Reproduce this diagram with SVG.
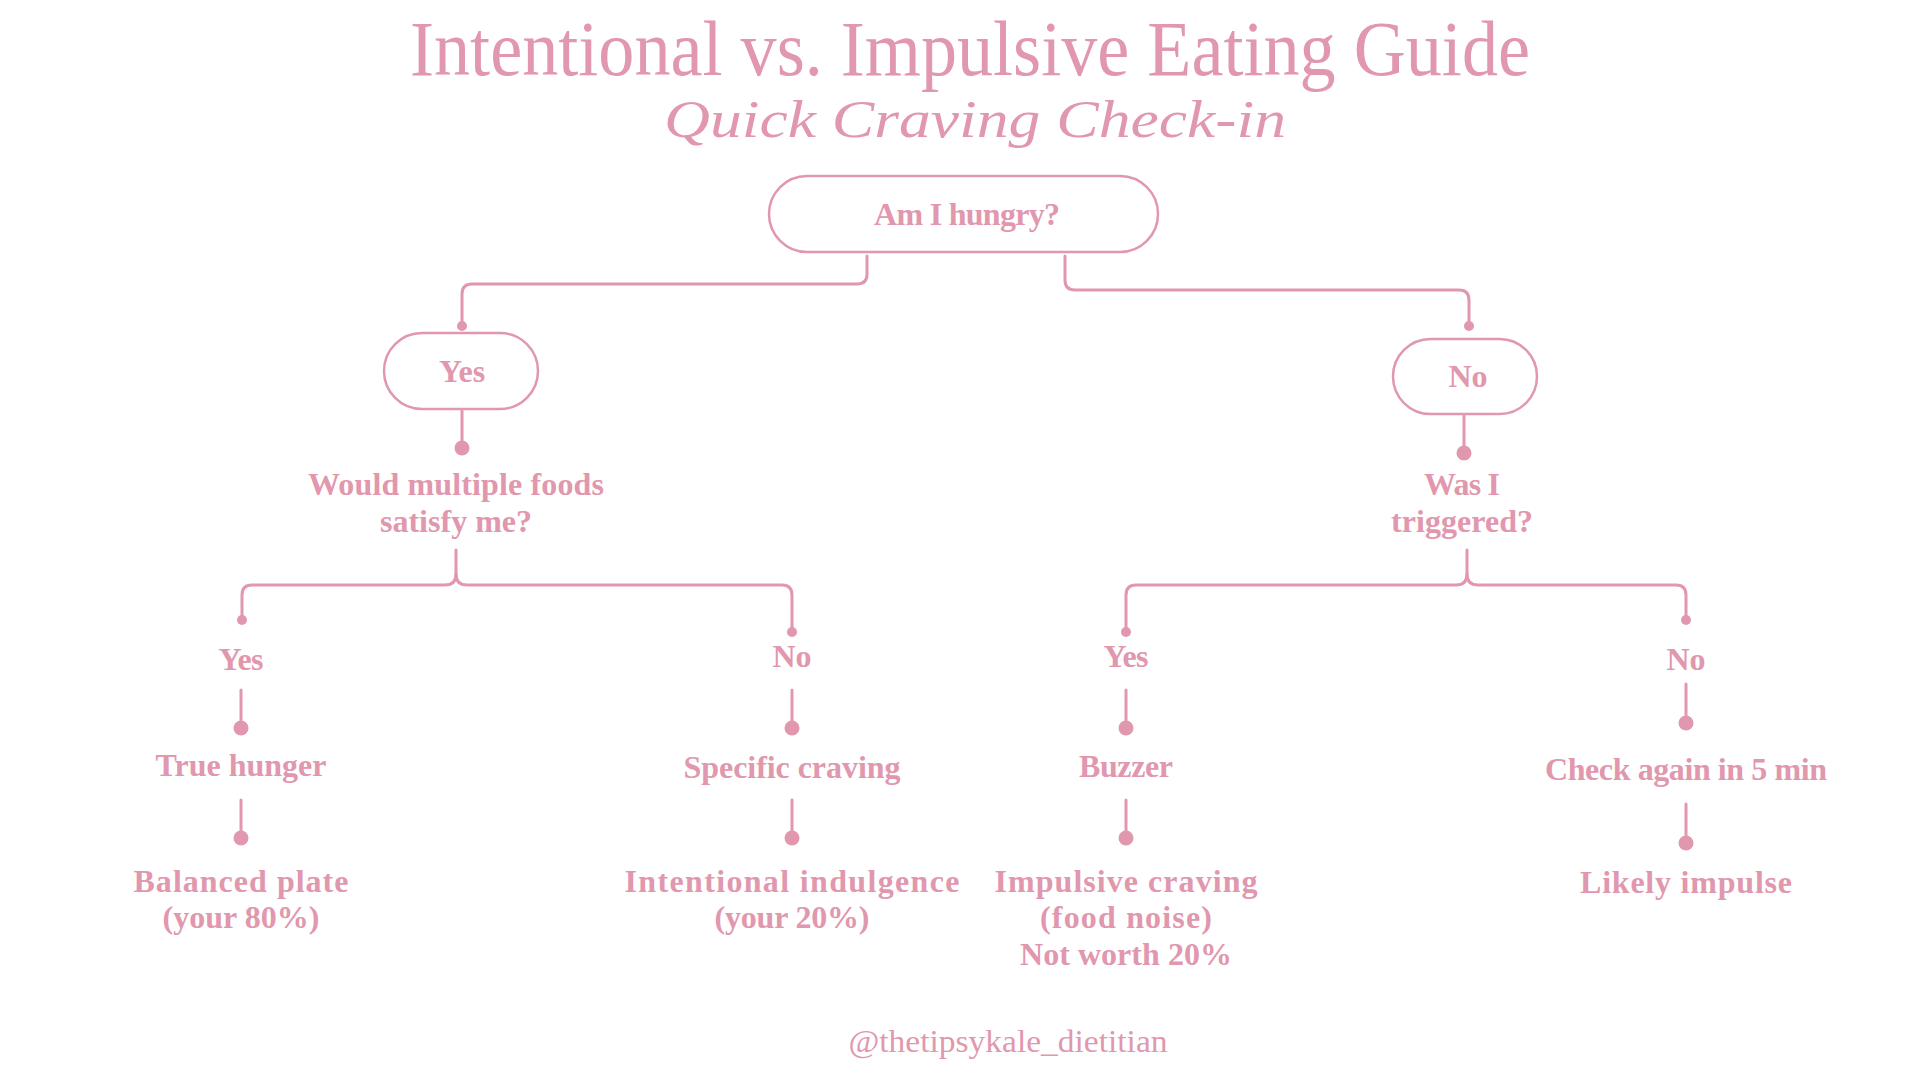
<svg xmlns="http://www.w3.org/2000/svg" width="1920" height="1080" viewBox="0 0 1920 1080">
<style>
.t{font-family:"Liberation Serif","DejaVu Serif",serif;fill:#E197AD;text-anchor:middle}
.b{font-weight:bold;font-size:32px}
.node{fill:#fff;stroke:#E197AD;stroke-width:2.5}
.ln{fill:none;stroke:#E197AD;stroke-width:3;stroke-linecap:round}
.dot{fill:#E197AD}
</style>
<rect width="1920" height="1080" fill="#fff"/>
<text class="t" x="970" y="75" font-size="78" textLength="1120" lengthAdjust="spacingAndGlyphs">Intentional vs. Impulsive Eating Guide</text>
<text class="t" x="975" y="137" font-size="52" font-style="italic" textLength="622" lengthAdjust="spacingAndGlyphs">Quick Craving Check-in</text>

<g id="connectors">
<path class="ln" d="M867,256 V274 Q867,284 857,284 H472 Q462,284 462,294 V326"/>
<circle class="dot" cx="462" cy="326" r="5"/>
<path class="ln" d="M1065,256 V280 Q1065,290 1075,290 H1459 Q1469,290 1469,300 V326"/>
<circle class="dot" cx="1469" cy="326" r="5"/>
<path class="ln" d="M462,411 V448"/>
<circle class="dot" cx="462" cy="448" r="7.5"/>
<path class="ln" d="M1464,415 V453"/>
<circle class="dot" cx="1464" cy="453" r="7.5"/>
<path class="ln" d="M456,550 V574 Q456,585 445,585 H252 Q242,585 242,595 V620"/>
<path class="ln" d="M456,574 Q456,585 467,585 H782 Q792,585 792,595 V632"/>
<circle class="dot" cx="242" cy="620" r="5"/>
<circle class="dot" cx="792" cy="632" r="5"/>
<path class="ln" d="M1467,550 V574 Q1467,585 1456,585 H1136 Q1126,585 1126,595 V632"/>
<path class="ln" d="M1467,574 Q1467,585 1478,585 H1676 Q1686,585 1686,595 V620"/>
<circle class="dot" cx="1126" cy="632" r="5"/>
<circle class="dot" cx="1686" cy="620" r="5"/>
<path class="ln" d="M241,690 V728"/><circle class="dot" cx="241" cy="728" r="7.5"/>
<path class="ln" d="M241,800 V838"/><circle class="dot" cx="241" cy="838" r="7.5"/>
<path class="ln" d="M792,690 V728"/><circle class="dot" cx="792" cy="728" r="7.5"/>
<path class="ln" d="M792,800 V838"/><circle class="dot" cx="792" cy="838" r="7.5"/>
<path class="ln" d="M1126,690 V728"/><circle class="dot" cx="1126" cy="728" r="7.5"/>
<path class="ln" d="M1126,800 V838"/><circle class="dot" cx="1126" cy="838" r="7.5"/>
<path class="ln" d="M1686,684 V723"/><circle class="dot" cx="1686" cy="723" r="7.5"/>
<path class="ln" d="M1686,804 V843"/><circle class="dot" cx="1686" cy="843" r="7.5"/>
</g>

<g id="n-hungry">
<rect class="node" x="769" y="176" width="389" height="76" rx="38"/>
<text class="t b" x="967" y="225" textLength="186">Am I hungry?</text>
</g>
<g id="n-yes">
<rect class="node" x="384" y="333" width="154" height="76" rx="38"/>
<text class="t b" x="462" y="382">Yes</text>
</g>
<g id="n-no">
<rect class="node" x="1393" y="339" width="144" height="75" rx="37.5"/>
<text class="t b" x="1468" y="387">No</text>
</g>
<g id="q-multiple">
<text class="t b" x="456" y="495" textLength="296">Would multiple foods</text>
<text class="t b" x="456" y="532" textLength="152">satisfy me?</text>
</g>
<g id="q-triggered">
<text class="t b" x="1462" y="495" textLength="76">Was I</text>
<text class="t b" x="1462" y="532" textLength="142">triggered?</text>
</g>
<g id="l-yes1"><text class="t b" x="241" y="670" textLength="45">Yes</text></g>
<g id="l-no1"><text class="t b" x="792" y="667">No</text></g>
<g id="l-yes2"><text class="t b" x="1126" y="667" textLength="45">Yes</text></g>
<g id="l-no2"><text class="t b" x="1686" y="670">No</text></g>
<g id="r-true"><text class="t b" x="241" y="776" textLength="171">True hunger</text></g>
<g id="r-specific"><text class="t b" x="792" y="778" textLength="217">Specific craving</text></g>
<g id="r-buzzer"><text class="t b" x="1126" y="777" textLength="94">Buzzer</text></g>
<g id="r-check"><text class="t b" x="1686" y="780" textLength="282">Check again in 5 min</text></g>
<g id="f-balanced">
<text class="t b" x="241" y="892" textLength="215">Balanced plate</text>
<text class="t b" x="241" y="928" textLength="157">(your 80%)</text>
</g>
<g id="f-intentional">
<text class="t b" x="792" y="892" textLength="335">Intentional indulgence</text>
<text class="t b" x="792" y="928" textLength="155">(your 20%)</text>
</g>
<g id="f-impulsive">
<text class="t b" x="1126" y="892" textLength="263">Impulsive craving</text>
<text class="t b" x="1126" y="928" textLength="172">(food noise)</text>
<text class="t b" x="1126" y="965" textLength="212">Not worth 20%</text>
</g>
<g id="f-likely"><text class="t b" x="1686" y="893" textLength="212">Likely impulse</text></g>

<text class="t" x="1008" y="1052" font-size="31" textLength="319" lengthAdjust="spacingAndGlyphs">@thetipsykale_dietitian</text>
</svg>
